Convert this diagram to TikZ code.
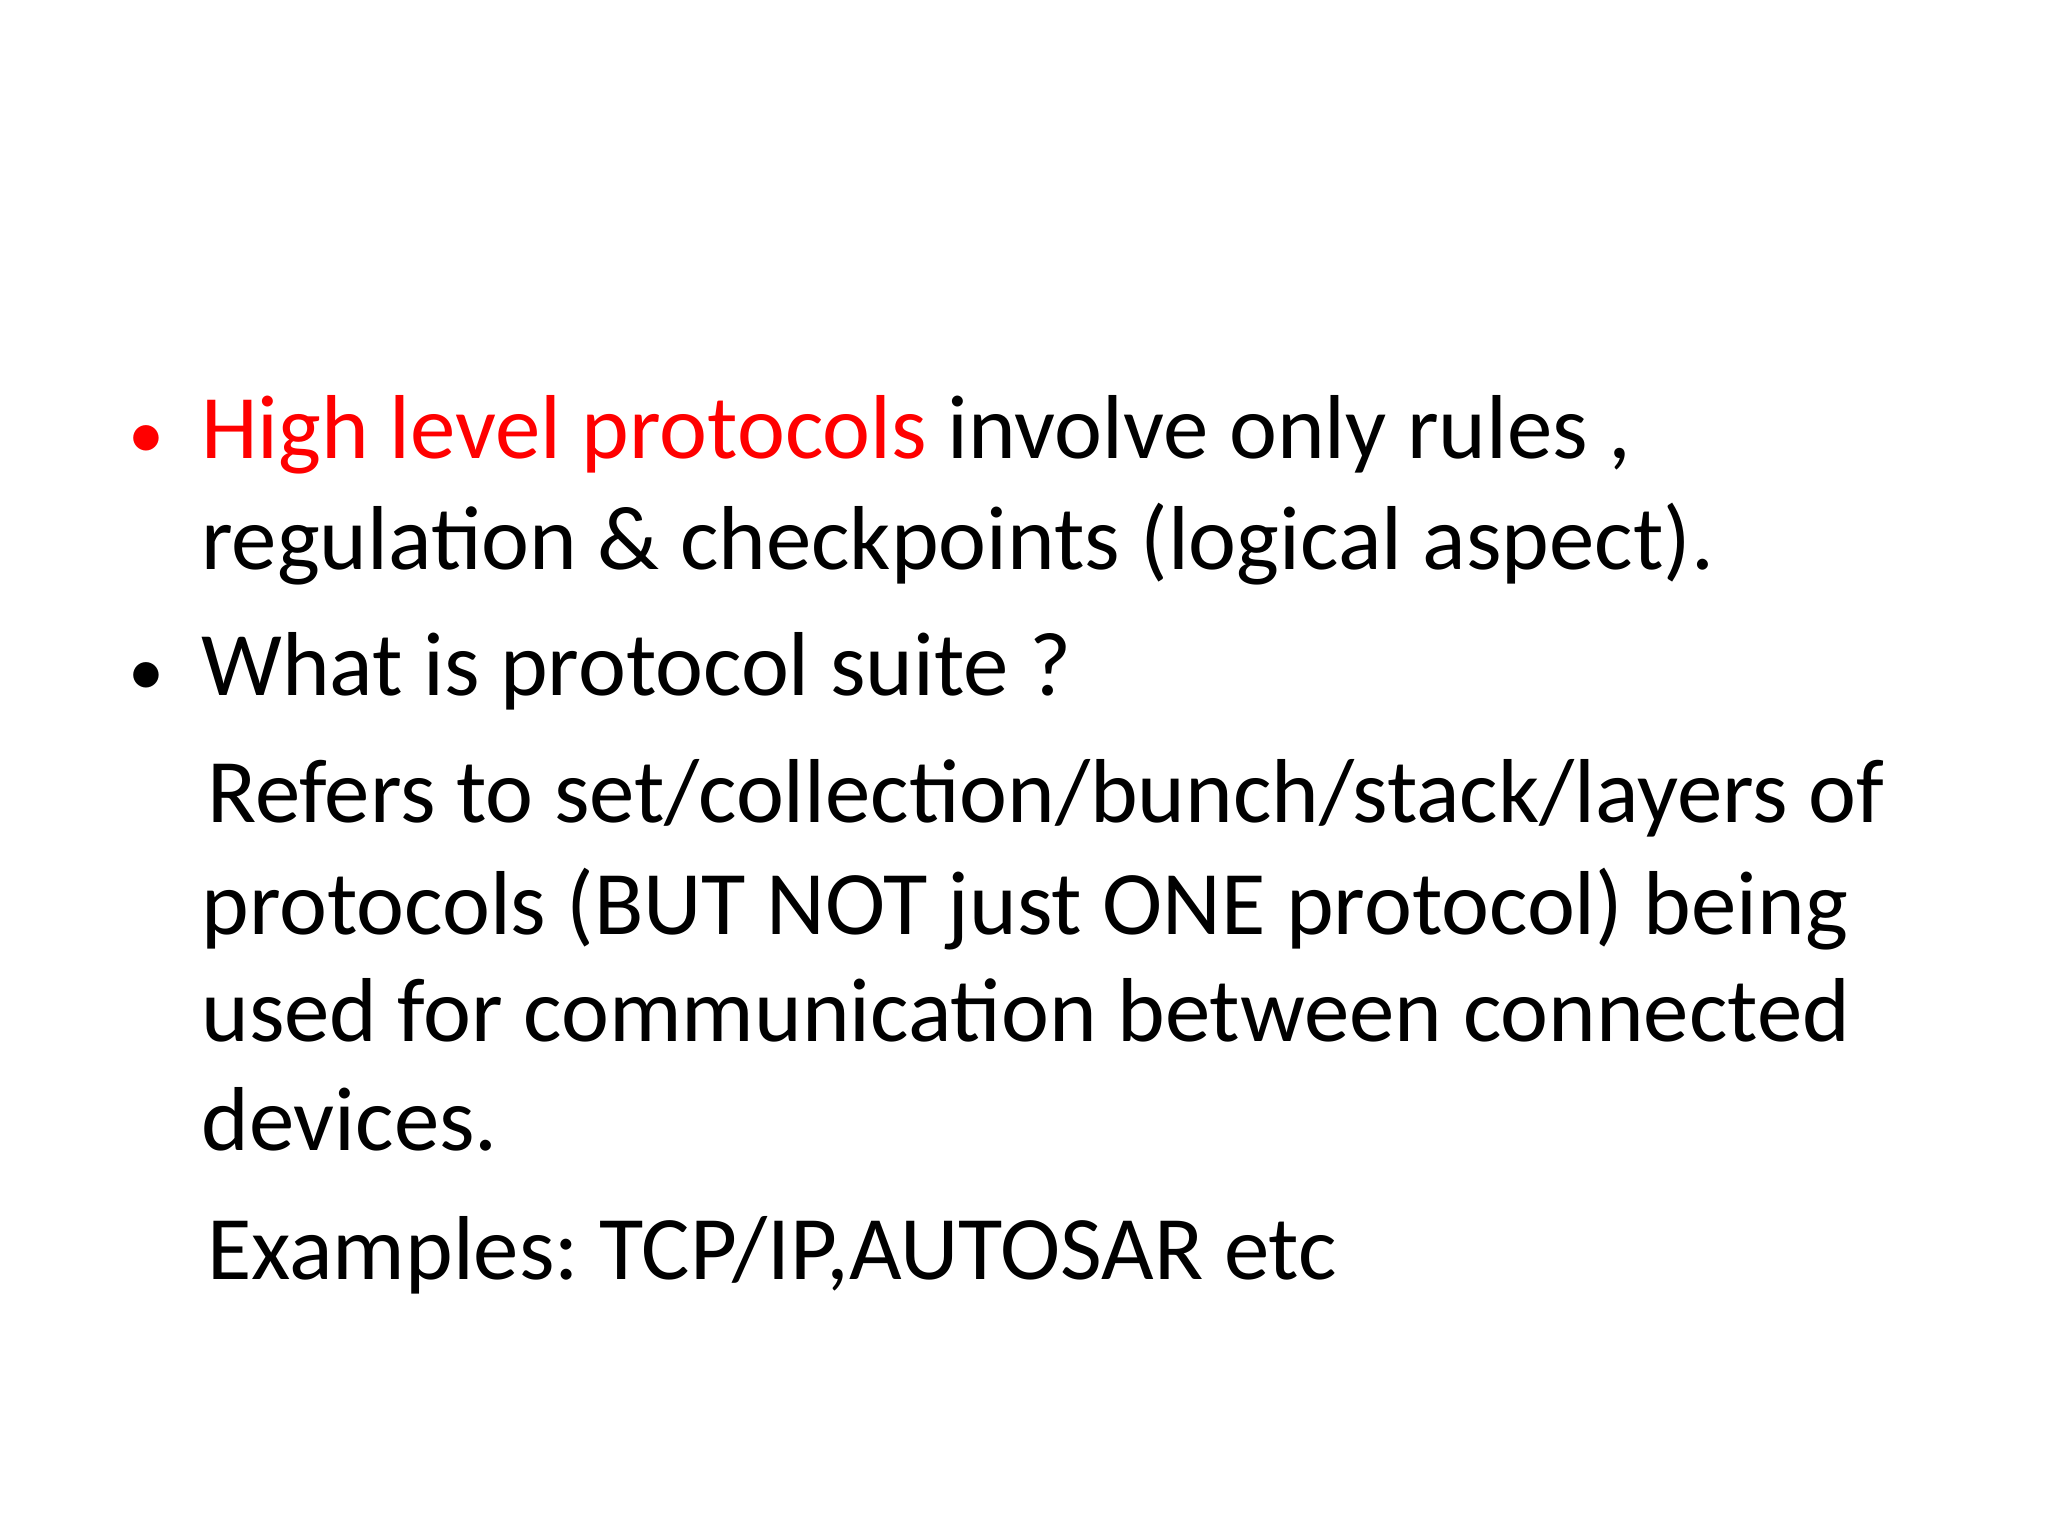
\documentclass[tikz,border=0pt]{standalone}
\usepackage{fontspec}
\setmainfont{Carlito}
\frenchspacing
\definecolor{hl}{RGB}{255,0,0}
\begin{document}
\begin{tikzpicture}[x=0.5pt,y=-0.5pt,
  txt/.style={anchor=base west,inner sep=0pt,font=\fontsize{45.4}{54}\selectfont},
  bul/.style={anchor=base west,inner sep=0pt,font=\fontsize{36}{40}\selectfont}]
\useasboundingbox (0,0) rectangle (2048,1536);
\node[bul,text=hl] (b1) at (128,458) {•};
\node[txt] (l1) at (201,458) {\textcolor{hl}{High level protocols} involve only rules ,};
\node[txt] (l2) at (201,569) {regulation \& checkpoints (logical aspect).};
\node[bul] (b2) at (128,695) {•};
\node[txt] (l3) at (201,695) {What is protocol suite ?};
\node[txt] (l4) at (207,822) {Refers to set/collection/bunch/stack/layers of};
\node[txt] (l5) at (201,934) {protocols (BUT NOT just ONE protocol) being};
\node[txt] (l6) at (201,1041) {used for communication between connected};
\node[txt] (l7) at (201,1150) {devices.};
\node[txt] (l8) at (207,1279) {Examples: TCP/IP,AUTOSAR etc};
\end{tikzpicture}
\end{document}
